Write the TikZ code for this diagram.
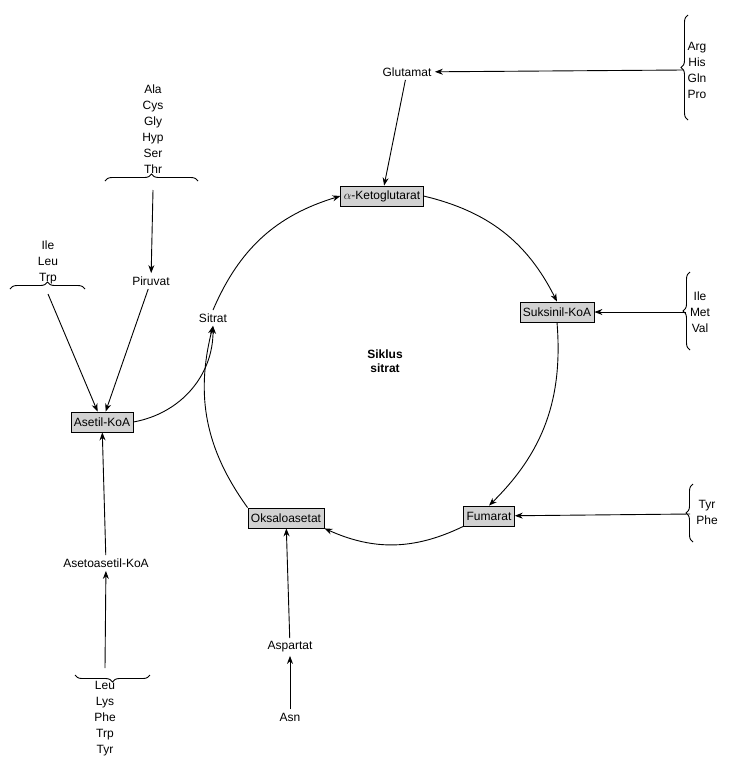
\documentclass[tikz,border=0pt]{standalone}
\usepackage{fontspec}
\setmainfont{Liberation Sans}
\usetikzlibrary{arrows.meta,decorations.pathreplacing}
\tikzset{
  every node/.style={font=\fontsize{12}{14}\selectfont},
  box/.style={draw,fill=gray!35,line width=0.8pt,inner sep=3pt,minimum height=20pt},
  lst/.style={align=center,inner sep=1pt,font=\fontsize{12}{16}\selectfont},
  arr/.style={-{Stealth[length=8pt,width=6pt]},line width=0.9pt},
  brc/.style={decorate,decoration={brace,amplitude=7pt},line width=0.9pt}}
\begin{document}
\begin{tikzpicture}[x=1pt,y=-1pt]
\useasboundingbox (0,0) rectangle (739,772);
\node[box] (akg) at (382,196) {$\alpha$-Ketoglutarat};
\node[box] (suk) at (557,312) {Suksinil-KoA};
\node[box] (fum) at (489,516) {Fumarat};
\node[box] (oks) at (286,518) {Oksaloasetat};
\node[box] (ase) at (102,422) {Asetil-KoA};
\node (sit) at (213,318) {Sitrat};
\node (glu) at (407,72) {Glutamat};
\node (pir) at (151,281) {Piruvat};
\node (aka) at (106,563) {Asetoasetil-KoA};
\node (asp) at (290,647) {Aspartat};
\node (asn) at (290,717) {Asn};
\node[font=\fontsize{12}{14}\selectfont\bfseries,align=center] (sik) at (385,361) {Siklus\\sitrat};
\node[lst] (l1) at (697,70) {Arg\\His\\Gln\\Pro};
\node[lst] (l2) at (153,129) {Ala\\Cys\\Gly\\Hyp\\Ser\\Thr};
\node[lst] (l3) at (48,262) {Ile\\Leu\\Trp};
\node[lst] (l4) at (700,312) {Ile\\Met\\Val};
\node[lst] (l5) at (707,512) {Tyr\\Phe};
\node[lst] (l6) at (105,719) {Leu\\Lys\\Phe\\Trp\\Tyr};
\coordinate (b1) at (683,70);
\coordinate (b2) at (153,190);
\coordinate (b3) at (48,294);
\coordinate (b4) at (686,312);
\coordinate (b5) at (690,514);
\coordinate (b6) at (105,668);
\draw[brc] (688,120) -- (688,15);
\draw[brc] (105,181) -- (198,181);
\draw[brc] (10,289) -- (85,289);
\draw[brc] (690,350) -- (690,272);
\draw[brc] (693,542) -- (693,484);
\draw[brc] (150,675) -- (75,675);
\draw[arr] (b1) -- (glu);
\draw[arr] (glu) -- (akg);
\draw[arr] (b2) -- (pir);
\draw[arr] (pir) -- (ase);
\draw[arr] (b3) -- (ase);
\draw[arr] (b4) -- (suk);
\draw[arr] (b5) -- (fum);
\draw[arr] (b6) -- (aka);
\draw[arr] (aka) -- (ase);
\draw[arr] (asn) -- (asp);
\draw[arr] (asp) -- (oks);
\draw[arr] (akg.east) to[bend left=25] (suk.north);
\draw[arr] (suk.south) to[bend left=25] (fum.north);
\draw[arr] (fum.south west) to[bend left=25] (oks.south east);
\draw[arr] (oks.north west) to[bend left=25] (sit.south);
\draw[arr] (sit.north) to[bend left=25] (akg.west);
\draw[arr] (ase.east) to[bend right=40] (sit.south);
\end{tikzpicture}
\end{document}
